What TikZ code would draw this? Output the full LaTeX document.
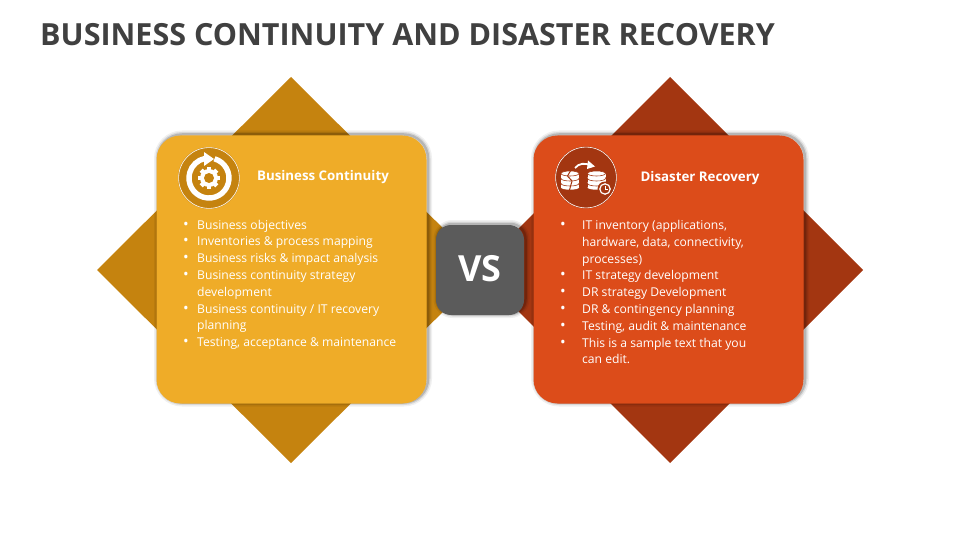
\documentclass[tikz,border=0pt]{standalone}
\usepackage{fontspec}
\setmainfont{Open Sans}
\definecolor{bcCard}{HTML}{EFAC28}
\definecolor{bcDark}{HTML}{C5830F}
\definecolor{drCard}{HTML}{DC4C1A}
\definecolor{drDark}{HTML}{A33611}
\definecolor{vsGray}{HTML}{5B5B5B}
\definecolor{titleGray}{HTML}{404040}
\newcommand{\dbstack}[2]{%
  \foreach \k in {2,1,0} {
    \fill[white] (#1-9,#2+\k*5-2.5) rectangle (#1+9,#2+\k*5+1.5) ;
    \fill[white] (#1,#2+\k*5+1.5) ellipse[x radius=9,y radius=2.2] ;
    \draw[fill=white,draw=\iconcol,line width=.6pt] (#1,#2+\k*5-2.5) ellipse[x radius=9,y radius=2.5] ;
  }
}
\tikzset{
  softshadow/.style={
    preaction={draw=black,opacity=.06,line width=8pt,transform canvas={xshift=1.5pt,yshift=1pt}},
    preaction={draw=black,opacity=.10,line width=5pt,transform canvas={xshift=1.5pt,yshift=1pt}},
    preaction={draw=black,opacity=.16,line width=2.5pt,transform canvas={xshift=1.5pt,yshift=1pt}}},
  card/.style={minimum width=270pt,minimum height=268pt,rounded corners=24pt,inner sep=0pt,softshadow},
  headtext/.style={font=\fontsize{13.3}{16}\selectfont\bfseries,text=white,inner sep=0pt},
  listtext/.style={font=\fontsize{12.15}{16.8}\selectfont,text=white,inner sep=0pt,anchor=north west},
  iconring/.style={draw=white,line width=.6pt}
}
\newenvironment{cardlist}[2]{%
  \begin{minipage}{#1}\begin{list}{{\fontsize{15}{16}\selectfont\textbullet}}{\setlength{\leftmargin}{#2}\setlength{\labelsep}{0pt}%
  \setlength{\labelwidth}{#2}\setlength{\itemsep}{0pt}\setlength{\parsep}{0pt}\setlength{\topsep}{0pt}%
  \setlength{\partopsep}{0pt}\renewcommand{\makelabel}[1]{##1\hfil}}%
  \raggedright}{\end{list}\end{minipage}}
\begin{document}
\begin{tikzpicture}[x=1pt,y=-1pt]
  \useasboundingbox (0,0) rectangle (960,540) ;
  \node[font=\fontsize{30.5}{36}\selectfont\bfseries,text=titleGray,anchor=west,inner sep=0pt] (title) at (40,34.5)
    {BUSINESS CONTINUITY AND DISASTER RECOVERY} ;
  % diamonds behind the cards
  \fill[bcDark] (291,77)--(485,270)--(291,463)--(97,270)--cycle ;
  \fill[drDark] (670,77)--(863,270)--(670,463)--(477,270)--cycle ;
  % cards
  \node[card,fill=bcCard] (bc) at (291.5,269.5) {} ;
  \node[card,fill=drCard] (dr) at (668.5,269.5) {} ;
  \node[minimum width=88pt,minimum height=90pt,rounded corners=15pt,fill=vsGray,inner sep=0pt,softshadow,
    text depth=3pt,font=\fontsize{36}{40}\selectfont\bfseries,text=white] (vs) at (480,270) {VS} ;
  % left icon
  \fill[bcDark] (209,178) circle (31) ;
  \draw[iconring] (209,178) circle (30.4) ;
  \draw[white,line width=5.4pt] (214.5,158.8) arc[start angle=74,end angle=-258,radius=20pt] ;
  \fill[white] (204,152) -- (214,159) -- (204,166) -- cycle ;
  \foreach \a in {0,45,...,315} {
    \fill[white,rotate around={\a:(209,178)}] (206.8,167) rectangle (211.2,172) ;
  }
  \fill[white] (209,178) circle (9) ;
  \fill[bcDark] (209,178) circle (5) ;
  % right icon
  \fill[drDark] (586,177.5) circle (31) ;
  \draw[iconring] (586,177.5) circle (30.4) ;
  \def\iconcol{drDark}
  \dbstack{570}{176}
  \dbstack{596.5}{176}
  \draw[drDark,line width=1pt] (571,170)--(567.5,176)--(572,181)--(569.5,190) ;
  \draw[white,line width=1.8pt] (575,168) .. controls (579,163) and (585,163) .. (590,165) ;
  \fill[white] (588,160.5) -- (595,166.5) -- (587,169) -- cycle ;
  \fill[drDark] (605,189) circle (7.5) ;
  \draw[white,line width=1.2pt] (605,189) circle (5.2) ;
  \draw[white,line width=.9pt] (605,186)--(605,189)--(607.5,189) ;
  % headings
  \node[headtext] (bchead) at (323,177.5) {Business Continuity} ;
  \node[headtext] (drhead) at (700,178.5) {Disaster Recovery} ;
  % bullet lists
  \node[listtext] (bclist) at (183,219.7) {\begin{cardlist}{235pt}{14pt}
    \item Business objectives
    \item Inventories \& process mapping
    \item Business risks \& impact analysis
    \item Business continuity strategy\\ development
    \item Business continuity / IT recovery\\ planning
    \item Testing, acceptance \& maintenance
  \end{cardlist}} ;
  \node[listtext] (drlist) at (560,220) {\begin{cardlist}{235pt}{22pt}
    \item IT inventory (applications,\\ hardware, data, connectivity,\\ processes)
    \item IT strategy development
    \item DR strategy Development
    \item DR \& contingency planning
    \item Testing, audit \& maintenance
    \item This is a sample text that you\\ can edit.
  \end{cardlist}} ;
\end{tikzpicture}
\end{document}
